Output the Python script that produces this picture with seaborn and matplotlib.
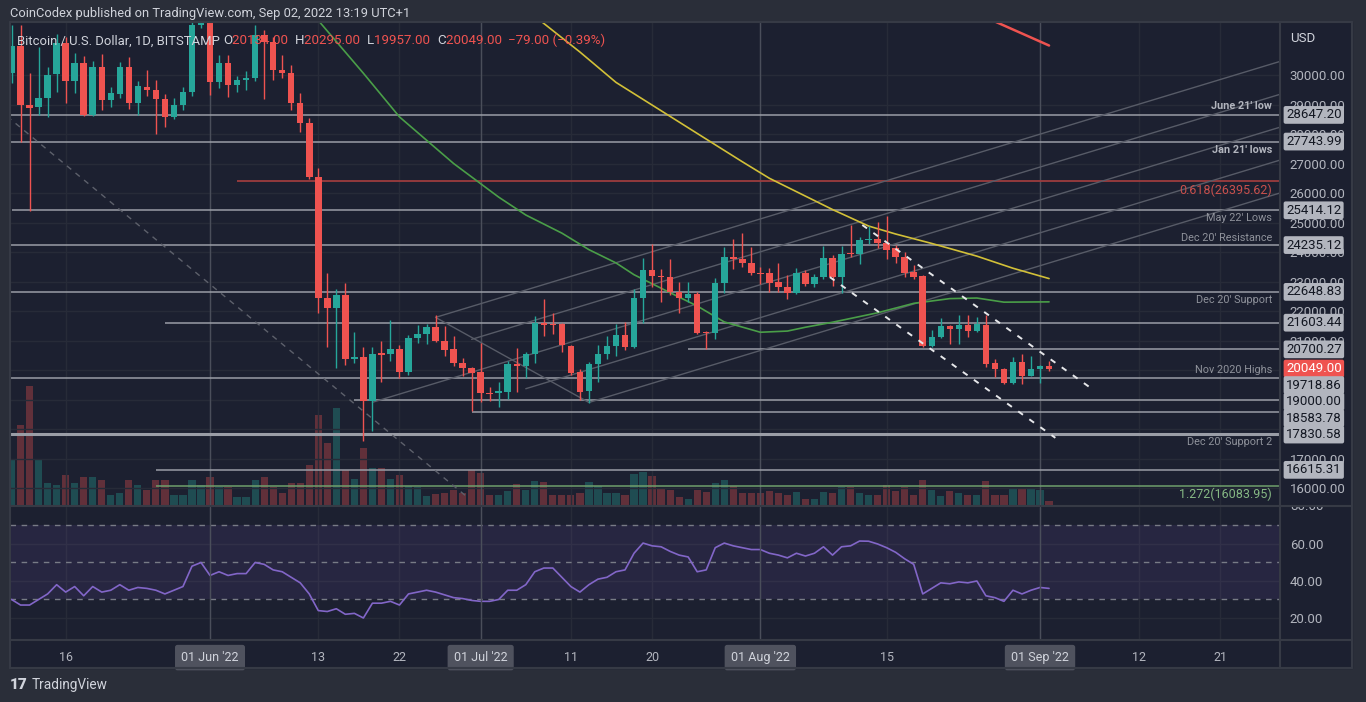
import numpy as np
import pandas as pd
import seaborn as sns
import matplotlib.pyplot as plt
from matplotlib.lines import Line2D
from matplotlib.ticker import FuncFormatter, FormatStrFormatter

# BTC/USD daily candles, Bitstamp, 10 May 2022 - 02 Sep 2022
dates = pd.date_range("2022-05-10", "2022-09-02", freq="D")

opens = [30070, 30980, 28980, 28900, 29210, 30030, 31100, 29810, 30420, 28650, 30260, 29150, 29360, 30260, 29060, 29610, 29490, 29180, 28570, 28980, 29430, 31700,
         31800, 29780, 30420, 29660, 29830, 29890, 31360, 31130, 30170, 30060, 29060, 28380, 26550, 22430, 22100, 22540, 20360, 20450, 18950, 20570, 20530, 20710, 19940, 21080, 21210, 21470, 20990, 20700, 20250, 20080,
         19940, 19210, 19230, 19260, 20200, 20135, 20540, 21600, 21570, 21560, 20810, 19940, 19300, 20200, 20540, 20810, 21190, 20770, 22430, 23390, 23200, 23140, 22650, 22430, 22580, 21300, 21240, 22960, 23840, 23760, 23640,
         23280, 23280, 23000, 22800, 22600, 23300, 22915, 23165, 23790, 23140, 23980, 23930, 24410, 24450, 24320, 24125, 23840, 23320, 23190, 20810, 21130, 21490, 21380, 21515, 21330, 21525, 20230, 20020, 19550, 20270, 19800,
         20020, 20134]
highs = [31700, 31700, 30080, 30960, 30280, 31390, 31300, 30740, 30640, 30490, 30710, 29610, 30450, 30620, 29810, 30170, 29830, 29360, 29210, 29600, 32200, 32400,
         31950, 30680, 30680, 29950, 30150, 31700, 31530, 31300, 30680, 30340, 29400, 28530, 26850, 23290, 22750, 22940, 21300, 20770, 20770, 21000, 21700, 20850, 21190, 21530, 21560, 21870, 21490, 21150, 20400, 20110,
         20900, 19410, 19600, 20310, 20735, 20620, 21830, 22400, 21940, 21600, 20860, 20020, 20280, 20850, 21150, 21560, 21640, 22740, 23790, 24270, 23410, 23750, 23000, 23000, 22650, 21330, 23110, 24180, 24430, 24650, 24180,
         23480, 23450, 23620, 23220, 23450, 23390, 23250, 24200, 23900, 24200, 24920, 24500, 24880, 25030, 25210, 24240, 24010, 23560, 23230, 21360, 21750, 21520, 21865, 21860, 21810, 21860, 20360, 20060, 20430, 20540, 20475,
         20170, 20295]
lows = [29730, 27740, 25400, 28640, 28570, 29430, 29060, 29400, 28610, 28600, 28820, 28900, 29210, 28840, 28650, 29290, 28000, 28250, 28500, 28800, 29300, 31600,
        29320, 29550, 29240, 29430, 29490, 29790, 29180, 29830, 29890, 28810, 28080, 26460, 21930, 20790, 20070, 20170, 20230, 17600, 17920, 19600, 20310, 19720, 19830, 20900, 20880, 20960, 20470, 20140, 19800, 18600,
        18930, 18960, 18760, 19010, 19265, 19720, 20230, 21150, 21220, 20620, 19830, 19000, 18890, 19600, 20360, 20470, 20680, 20740, 21580, 22820, 22320, 22540, 21940, 22320, 21220, 20700, 21040, 22600, 23410, 23480, 23220,
        22915, 22650, 22650, 22400, 22580, 22850, 22820, 23100, 22850, 22620, 23830, 23590, 24270, 24125, 23750, 23640, 23165, 23075, 20780, 20780, 21075, 20880, 20880, 21130, 21300, 20110, 19770, 19525, 19520, 19525, 19780,
        19570, 19957]
closes = [30980, 28980, 28880, 29210, 30000, 31100, 29810, 30420, 28650, 30260, 29150, 29400, 30260, 29060, 29630, 29490, 29180, 28570, 28980, 29430, 31700, 31800,
          29780, 30420, 29660, 29830, 29890, 31360, 31130, 30170, 30060, 29060, 28380, 26550, 22430, 22100, 22540, 20360, 20450, 18950, 20540, 20510, 20710, 19940, 21080, 21210, 21470, 20990, 20680, 20250, 20080, 19890,
          19210, 19170, 19300, 20190, 20140, 20540, 21600, 21540, 21520, 20850, 19900, 19260, 20200, 20540, 20810, 21190, 20770, 22430, 23390, 23190, 23140, 22650, 22430, 22580, 21270, 21240, 22960, 23820, 23750, 23620, 23300,
          23245, 22960, 22800, 22600, 23300, 22915, 23165, 23790, 23140, 23930, 23930, 24410, 24450, 24300, 24070, 23820, 23300, 23165, 20810, 21130, 21490, 21400, 21515, 21330, 21560, 20200, 20020, 19550, 20270, 19800, 20020,
          20130, 20049]
volumes = [4500, 8000, 11900, 4500, 2200, 2000, 3000, 2200, 2800, 2800, 2500, 1000, 1200, 2500, 2000, 1500, 2500, 2500, 1000, 1000, 2500, 2000,
           2800, 1800, 1800, 800, 800, 2500, 2800, 1800, 1200, 2200, 2200, 4000, 9000, 6200, 9700, 3500, 2600, 5700, 3700, 3700, 2600, 3000, 1900, 1800, 900, 1100, 1200, 1500, 1200, 3500,
           3200, 1000, 1000, 1400, 2100, 1500, 2400, 2300, 1000, 1000, 1000, 1200, 2300, 1900, 1200, 1200, 1000, 3100, 3300, 2900, 1700, 1500, 800, 600, 1500, 1300, 2200, 2500, 1900, 1200, 1200,
           1200, 1400, 1200, 1000, 1300, 600, 600, 1300, 1200, 1800, 1800, 1200, 1000, 1000, 2000, 1400, 1800, 1000, 2500, 1500, 900, 1400, 1200, 1000, 1000, 2400, 1000, 1000, 1700, 1600, 1700,
           1500, 400]
rsi = [30, 27, 27, 30, 33, 38, 34, 37, 32, 37, 34, 35, 38, 35, 36.5, 36, 35, 33, 35, 37, 48, 50,
       43, 45, 43, 44, 44, 50, 49, 46, 45, 42, 39, 33, 24, 23.5, 25, 22, 22.5, 20, 28, 28, 29, 27, 33, 34, 35, 34, 32.5, 31, 30.5, 29.5,
       29, 29, 30, 35, 35, 38, 45, 47, 47, 42, 37, 34, 38, 41, 42, 45, 46, 55, 60.5, 59, 58.5, 56, 54, 53, 45, 46, 58, 60.5, 59, 58, 57,
       57, 55, 54, 52.5, 55, 53.5, 55, 58.5, 54, 58.5, 59, 61.6, 61.5, 60, 58, 55.5, 52, 49, 33, 36, 39, 38.5, 39.5, 39, 40, 32, 31, 29, 35, 33, 35,
       36.5, 36]

# moving averages (day index from 10 May, value)
ma_green_idx = [34, 39, 43, 49, 54, 57, 61, 64, 67, 69, 73, 76, 79, 83, 86, 88, 91, 96, 100, 104, 107, 110, 115]
ma_green_val = [31850, 30060, 28580, 27000, 25860, 25255, 24640, 24080, 23630, 23230, 22620, 22170, 21630, 21280, 21320, 21450, 21620, 21940, 22260, 22420, 22440, 22300, 22310]
ma_yellow_idx = [58, 63, 67, 72, 76, 81, 84, 91, 95, 98, 102, 107, 111, 115]
ma_yellow_val = [31990, 30780, 29750, 28790, 28020, 27060, 26500, 25440, 24880, 24610, 24290, 23860, 23450, 23100]
ma_red_idx = [108, 115]
ma_red_val = [31950, 31000]

# horizontal levels: price, start day index, side label
levels = [28647.20, 27743.99, 25414.12, 24235.12, 22648.83, 21603.44, 20700.27, 19718.86, 19000.00, 18583.78, 17830.58, 16615.31]
level_start = [None, None, 0, None, None, 17, 75, None, 38, 51, None, 16]
level_notes = {28647.20: "June 21' low", 27743.99: "Jan 21' lows", 25414.12: "May 22' Lows",
               24235.12: "Dec 20' Resistance", 22648.83: "Dec 20' Support", 19718.86: "Nov 2020 Highs",
               17830.58: "Dec 20' Support 2"}
fib_618, fib_1272 = 26395.62, 16083.95
last_price = 20049.00
hidden_ticks = [18000, 19000, 20000]   # covered by the price boxes

# rising channel: base anchor (day, price), slope per day, offsets and start days
chan_base = (64, 18900)
chan_slope = 92.7
chan_offsets = [0, 1115, 2230, 3345, 4460]
chan_starts = [64, 57, 40, 51, 47]
# descending dashed trend lines (day, price) pairs
dash_upper = [(94.3, 24916), (119.9, 19330)]
dash_lower = [(90.7, 23150), (115.7, 17700)]
dash_left = [(-0.5, 28600), (50.5, 15695)]

tick_dates = ["2022-05-16", "2022-06-01", "2022-06-13", "2022-06-22", "2022-07-01", "2022-07-11",
              "2022-07-20", "2022-08-01", "2022-08-15", "2022-09-01", "2022-09-12", "2022-09-21"]
tick_labels = ["16", "01 Jun '22", "13", "22", "01 Jul '22", "11", "20", "01 Aug '22", "15", "01 Sep '22", "12", "21"]

# ---- style ----
UP, DOWN = "#26a69a", "#ef5350"
BG, FRAME, GRID, SEP = "#1c2030", "#2a2e39", "#272b38", "#363a45"
TXT, TXT2 = "#d1d4dc", "#b2b5be"
W, H = 1366, 702

sns.set_theme(style="dark", rc={"axes.facecolor": BG, "figure.facecolor": FRAME})
plt.rcParams['font.family'] = ['Roboto', 'DejaVu Sans']


def fx(px):
    return px / W


def fy(py):
    return 1 - py / H


n = len(dates)
xi = np.arange(n)
o, hi, lo, c = map(np.array, (opens, highs, lows, closes))
up = c >= o
cols = np.where(up, UP, DOWN)
XL, XR = -0.17, 140.6
PMIN, PMAX = 15424, 31797

fig = plt.figure(figsize=(W / 100, H / 100), dpi=100)
fig.patches.append(plt.Rectangle((fx(10), fy(668)), (1352 - 10) / W, (668 - 22) / H,
                                 transform=fig.transFigure, color=BG, zorder=-5))

# ---- price panel ----
ax = fig.add_axes([fx(10), fy(505), (1280 - 10) / W, (505 - 22) / H])
axv = ax.twinx()
axv.set_zorder(1)
ax.set_zorder(2)
ax.patch.set_visible(False)
axv.patch.set_visible(True)
axv.patch.set_facecolor(BG)

vcols = [(38 / 255, 166 / 255, 154 / 255, 0.33) if u else (239 / 255, 83 / 255, 80 / 255, 0.33) for u in up]
axv.bar(xi, volumes, width=0.8, color=vcols, linewidth=0)
axv.set_ylim(0, 48300)
axv.set_yticks([])

ax.set_xlim(XL, XR)
ax.set_ylim(PMIN, PMAX)
ax.set_yticks(np.arange(16000, 31000, 1000))
ax.yaxis.set_major_formatter(FuncFormatter(lambda v, p: "" if int(round(v)) in hidden_ticks else f"{v:.2f}"))
ax.yaxis.tick_right()
ax.tick_params(axis='y', length=0, pad=7, labelsize=9.5, labelcolor=TXT2)
tick_idx = [(pd.Timestamp(d) - dates[0]).days for d in tick_dates]
ax.set_xticks(tick_idx)
ax.set_xticklabels([])
ax.tick_params(axis='x', length=0)
ax.grid(True, color=GRID, lw=1)
ax.set_axisbelow(True)
for a in (ax, axv):
    for s in a.spines.values():
        s.set_visible(False)

month_idx = [i for i, t in zip(tick_idx, tick_labels) if "'" in t]
for m in month_idx:
    ax.axvline(m, color="#4a4e5a", lw=1, zorder=1)

# levels
for p, st in zip(levels, level_start):
    lw = 2.2 if p == 17830.58 else 1.1
    ax.hlines(p, XL if st is None else st, XR, color="#9a9da6", lw=lw, zorder=2)
ax.hlines(fib_618, 25, XR, color="#9c3c3e", lw=1.3, zorder=2)
ax.hlines(fib_1272, 16, XR, color="#6f9f6c", lw=1.1, zorder=2)

# channel
CH = "#575b67"
for off, st in zip(chan_offsets, chan_starts):
    xs = np.array([st, XR])
    ys = chan_base[1] + off + (xs - chan_base[0]) * chan_slope
    ax.plot(xs, ys, color=CH, lw=1, zorder=2)
a_st = chan_starts[-1]
ax.plot([a_st, chan_base[0]], [chan_base[1] + chan_offsets[-1] + (a_st - chan_base[0]) * chan_slope, chan_base[1]],
        color=CH, lw=1, zorder=2)

# dashed trend lines
for seg in (dash_upper, dash_lower):
    ax.plot([seg[0][0], seg[1][0]], [seg[0][1], seg[1][1]], color="#e6e7ea", lw=1.4, ls=(0, (3, 4)), zorder=6)
ax.plot([dash_left[0][0], dash_left[1][0]], [dash_left[0][1], dash_left[1][1]], color="#5d606b", lw=1, ls=(0, (4, 4)), zorder=2)

# moving averages
sns.lineplot(x=ma_green_idx, y=ma_green_val, ax=ax, color="#4a9e48", lw=1.2, zorder=3)
sns.lineplot(x=ma_yellow_idx, y=ma_yellow_val, ax=ax, color="#d2c038", lw=1.2, zorder=3)
sns.lineplot(x=ma_red_idx, y=ma_red_val, ax=ax, color="#ef5350", lw=1.8, zorder=3)

# candles
ax.vlines(xi, lo, hi, color=cols, lw=1, zorder=4)
ax.bar(xi, np.maximum(np.abs(c - o), 25), bottom=np.minimum(o, c), width=0.72, color=cols, linewidth=0, zorder=5)
ax.set_xlabel("")
ax.set_ylabel("")

# side notes
ytr = ax.get_yaxis_transform()
note_dy = {28647.20: 290, 27743.99: -290, 25414.12: -260, 24235.12: 230, 22648.83: -260,
           19718.86: 270, 17830.58: -270}
for p, t in level_notes.items():
    bold = p in (28647.20, 27743.99)
    ax.text(0.9937, p + note_dy[p], t, transform=ytr, ha='right', va='center', fontsize=7.8,
            color=TXT2 if bold else "#8f929b", fontweight='bold' if bold else 'normal', zorder=8)
ax.text(0.9937, fib_618 - 300, "0.618(26395.62)", transform=ytr, ha='right', va='center',
        fontsize=9, color="#c9504d", zorder=8)
ax.text(0.9937, fib_1272 - 290, "1.272(16083.95)", transform=ytr, ha='right', va='center',
        fontsize=9, color="#86b884", zorder=8)

# price axis boxes (stacked so they do not overlap)
gap = 16.5 * (PMAX - PMIN) / 483
boxes = sorted([(p, False) for p in levels] + [(last_price, True)], key=lambda t: -t[0])
prev = None
for p, is_last in boxes:
    pos = p if prev is None or prev - p >= gap else prev - gap
    prev = pos
    ax.text(1 + 6 / 1270, pos, f"{p:.2f}", transform=ytr, ha='left', va='center', fontsize=9.5,
            color="white" if is_last else "#131722", clip_on=False, zorder=10,
            bbox=dict(boxstyle='round,pad=0.18,rounding_size=0.15', fc=DOWN if is_last else TXT2, ec='none'))

# ---- RSI panel ----
axr = fig.add_axes([fx(10), fy(640), (1280 - 10) / W, (640 - 507) / H])
axr.set_facecolor(BG)
axr.set_xlim(XL, XR)
axr.set_ylim(8.1, 80)
axr.axhspan(30, 70, color="#7e57c2", alpha=0.12, lw=0)
for lv in (70, 50, 30):
    axr.axhline(lv, color="#787b86", lw=1, ls=(0, (4, 4)))
sns.lineplot(x=xi, y=rsi, ax=axr, color="#8266c8", lw=1.2)
axr.set_yticks([20, 40, 60])
axr.yaxis.set_major_formatter(FormatStrFormatter('%.2f'))
axr.yaxis.tick_right()
axr.tick_params(axis='y', length=0, pad=7, labelsize=9.5, labelcolor=TXT2)
axr.set_xticks(tick_idx)
axr.set_xticklabels(tick_labels)
axr.tick_params(axis='x', length=0, pad=8, labelsize=9, labelcolor=TXT2)
axr.grid(True, color=GRID, lw=1)
for m in month_idx:
    axr.axvline(m, color="#4a4e5a", lw=1)
for s in axr.spines.values():
    s.set_visible(False)
axr.set_xlabel("")
axr.set_ylabel("")
for lbl in axr.get_xticklabels():
    if "'" in lbl.get_text():
        lbl.set_color(TXT)
        lbl.set_bbox(dict(boxstyle='round,pad=0.5,rounding_size=0.2', fc="#4f525e", ec='none'))

# RSI scale column, so that the clipped "80.00" at the top edge shows as in the reference
axc = fig.add_axes([fx(1281), fy(640), (1351 - 1281) / W, (640 - 507) / H])
axc.set_ylim(8.1, 80)
axc.axis('off')
axc.text(9 / 70, 80, "80.00", fontsize=9.5, color=TXT2, va='center', ha='left',
         transform=axc.get_yaxis_transform(), clip_on=True)

# ---- separators ----
for (x0, y0, x1, y1) in [(10, 506, 1352, 506), (10, 640, 1352, 640), (1280, 22, 1280, 668),
                         (1352, 22, 1352, 668), (10, 22, 1352, 22), (10, 668, 1352, 668), (10, 22, 10, 668)]:
    fig.add_artist(Line2D([fx(x0), fx(x1)], [fy(y0), fy(y1)], transform=fig.transFigure, color=SEP, lw=1.5, zorder=20))

# ---- header / legend / footer text ----
fig.text(fx(10), fy(13), "CoinCodex published on TradingView.com, Sep 02, 2022 13:19 UTC+1",
         fontsize=9.3, color=TXT, va='center', ha='left')
fig.text(fx(1290), fy(38), "USD", fontsize=9.5, color=TXT, va='center', ha='left')

parts = [("O", TXT), ("20134.00  ", DOWN), ("H", TXT), ("20295.00  ", DOWN), ("L", TXT),
         ("19957.00  ", DOWN), ("C", TXT), ("20049.00  ", DOWN), ("\u221279.00 (\u22120.39%)", DOWN)]
prev_t = fig.text(fx(17), fy(41), "Bitcoin / U.S. Dollar, 1D, BITSTAMP ", fontsize=9.4, color=TXT,
                  va='center', ha='left', zorder=30)
for s, col in parts:
    prev_t = ax.annotate(s, xy=(1, 0), xycoords=prev_t, va='bottom', ha='left', fontsize=9.6,
                         color=col, annotation_clip=False, zorder=30)

fig.text(fx(10), fy(685), "17", fontsize=11, fontweight='heavy', color=TXT, va='center', ha='left')
fig.text(fx(32), fy(685), "TradingView", fontsize=9.8, color=TXT, va='center', ha='left')

fig.savefig("out.png", dpi=100, facecolor=fig.get_facecolor())
